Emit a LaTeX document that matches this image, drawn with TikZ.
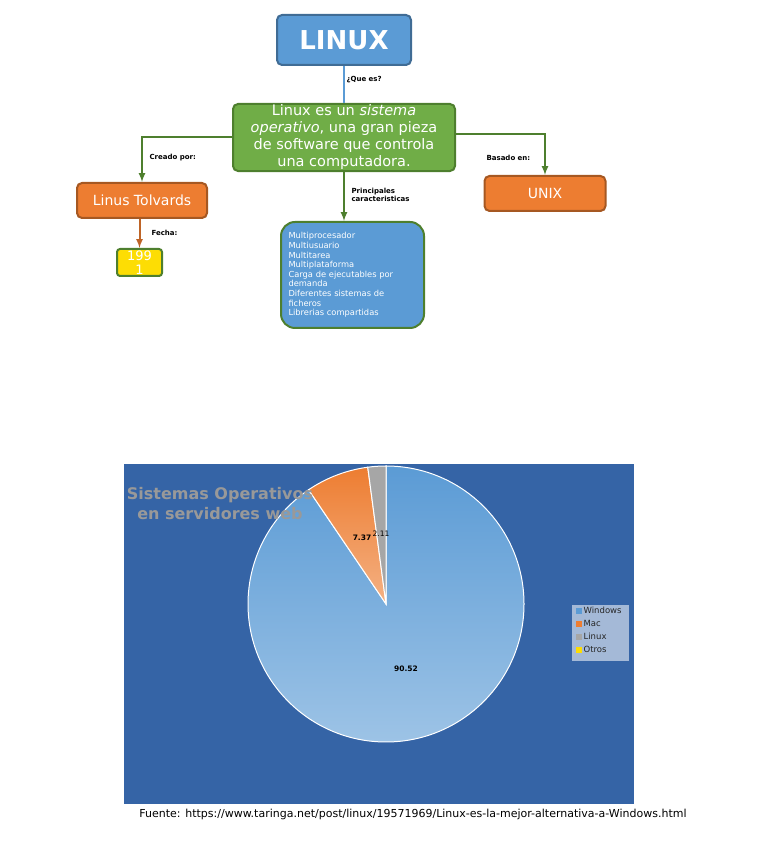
\documentclass[tikz,border=0pt]{standalone}
\usepackage{fontspec}
\setmainfont{DejaVu Sans}
\begin{document}
\begin{tikzpicture}[x=1pt,y=1pt,
 box/.style={rounded corners=5pt,line width=2pt,text=white,align=center,inner sep=1pt},
 lbl/.style={font=\fontsize{7}{8}\selectfont\bfseries,anchor=west,align=left},
 gl/.style={draw=bd,line width=2pt,-latex}]
\useasboundingbox (0,0) rectangle (768,866);
\definecolor{bl}{HTML}{5B9BD5}\definecolor{gr}{HTML}{70AD47}\definecolor{or}{HTML}{ED7D31}
\definecolor{bd}{HTML}{4E7F2E}
\node[box,fill=bl,draw=bl!70!black,minimum width=134pt,minimum height=50pt,font=\fontsize{26}{28}\selectfont\bfseries] (linux) at (344,826) {LINUX};
\node[box,fill=gr,draw=bd,minimum width=222pt,minimum height=57pt,font=\fontsize{14.5}{17}\selectfont] (def) at (344,728.5) {Linux es un \textit{sistema}\\\textit{operativo}, una gran pieza\\de software que controla\\una computadora.};
\node[box,fill=or,draw=or!70!black,minimum width=130pt,minimum height=35pt,font=\fontsize{14}{16}\selectfont] (linus) at (142,665.5) {Linus Tolvards};
\node[box,fill=or,draw=or!70!black,minimum width=121pt,minimum height=35pt,font=\fontsize{14}{16}\selectfont] (unix) at (545,672.5) {UNIX};
\node[box,fill=yellow!80!orange,draw=bd,rounded corners=3pt,minimum width=45pt,minimum height=27pt,font=\fontsize{13}{14}\selectfont] (year) at (139.5,603.5) {199\\1};
\node[box,fill=bl,draw=bd,rounded corners=14pt,minimum width=143pt,minimum height=106pt,align=left,font=\fontsize{8.3}{9.6}\selectfont,text width=128pt] (feat) at (352.5,591) {\raggedright\hyphenpenalty=10000 Multiprocesador\\Multiusuario\\Multitarea\\Multiplataforma\\Carga de ejecutables por demanda\\Diferentes sistemas de ficheros\\Librerias compartidas};
\draw[draw=bl,line width=2.5pt] (linux.south) -- (def.north);
\node[lbl] (q) at (343,786) {¿Que es?};
\draw[gl] (def.west) -| (linus.north);
\draw[gl] ([yshift=3pt]def.east) -| (unix.north);
\draw[gl] (def.south) -- (def.south |- feat.north);
\draw[draw=or!80!black,line width=2pt,-latex] (linus.south -| year.north) -- (year.north);
\node[lbl] (l1) at (146,708) {Creado por:};
\node[lbl] (l2) at (483,708) {Basado en:};
\node[lbl] (l3) at (348,671) {Principales\\caracteristicas};
\node[lbl] (l4) at (148,633) {Fecha:};
% chart
\definecolor{chbg}{HTML}{3564A6}
\fill[chbg] (124,62) rectangle (634,402);
\coordinate (pc) at (386,262);
\shade[top color=bl,bottom color=bl!60!white,draw=white,line width=1pt] (pc) -- ++(90:138) arc[start angle=90,end angle=-235.87,radius=138] -- cycle;
\shade[top color=or,bottom color=or!60!white,draw=white,line width=1pt] (pc) -- ++(124.13:138) arc[start angle=124.13,end angle=97.6,radius=138] -- cycle;
\fill[gray!70,draw=white,line width=1pt] (pc) -- ++(97.6:138) arc[start angle=97.6,end angle=90,radius=138] -- cycle;
\node[font=\fontsize{7.5}{8}\selectfont\bfseries] (v1) at (362,328) {7.37};
\node[font=\fontsize{7.5}{8}\selectfont] (v2) at (381,332) {2.11};
\node[font=\fontsize{7.5}{8}\selectfont\bfseries] (v3) at (406,197) {90.52};
\node[font=\fontsize{16}{20}\selectfont\bfseries,text=gray!80,align=center] (ttl) at (220,362) {Sistemas Operativos\\en servidores web};
\fill[white!55!chbg] (572,205) rectangle (629,261);
\node[anchor=north west,font=\fontsize{8.5}{13}\selectfont,text=gray!30!black,align=left,inner sep=2pt] (leg) at (574,261) {\textcolor{bl}{\rule{6pt}{6pt}}\,Windows\\\textcolor{or}{\rule{6pt}{6pt}}\,Mac\\\textcolor{gray!70}{\rule{6pt}{6pt}}\,Linux\\\textcolor{yellow!80!orange}{\rule{6pt}{6pt}}\,Otros};
\node[font=\fontsize{11}{12}\selectfont] (src) at (413,52) {Fuente: https://www.taringa.net/post/linux/19571969/Linux-es-la-mejor-alternativa-a-Windows.html};
\end{tikzpicture}
\end{document}
